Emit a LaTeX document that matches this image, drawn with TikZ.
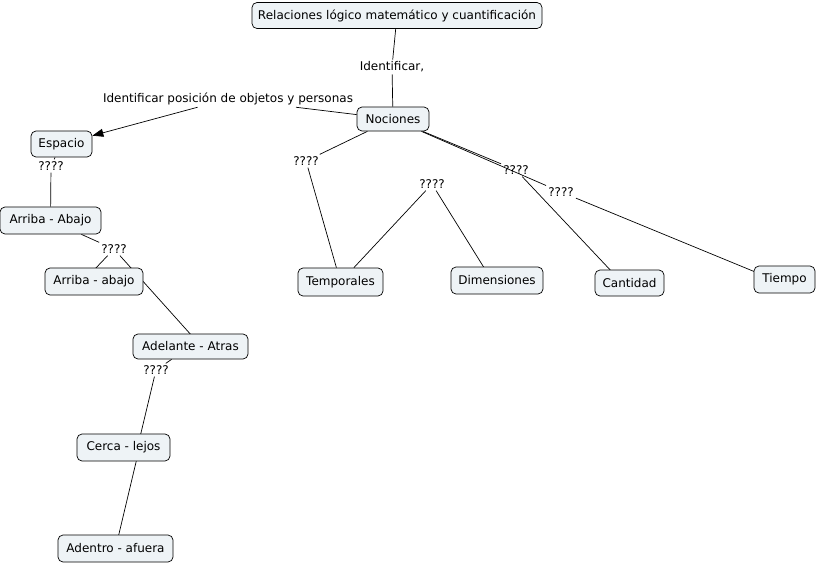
\documentclass[tikz,border=0pt]{standalone}
\usepackage{fontspec}
\setmainfont{DejaVu Sans}
\usetikzlibrary{backgrounds,arrows.meta}
\definecolor{boxfill}{HTML}{EEF3F6}
\begin{document}
\begin{tikzpicture}[x=1pt,y=-1pt,
  concept/.style={draw=black, fill=boxfill, rounded corners=5pt, minimum height=26pt,
    inner xsep=5pt, line width=0.7pt, font=\fontsize{12}{14}\selectfont},
  lbl/.style={inner sep=2pt, font=\fontsize{12}{14}\selectfont},
  link/.style={draw=black, line width=0.7pt},
  arrowlink/.style={link, -{Triangle[length=11pt,width=8pt]}}]
\useasboundingbox (0,0) rectangle (817,563);
% concepts
\node[concept, minimum width=290pt] (rel) at (397,15.5) {Relaciones lógico matemático y cuantificación};
\node[concept, minimum width=72pt, minimum height=24pt] (noc) at (393,119) {Nociones};
\node[concept, minimum width=61pt] (esp) at (61.5,144) {Espacio};
\node[concept, minimum width=101pt, minimum height=27pt] (aA) at (50.5,220.5) {Arriba - Abajo};
\node[concept, minimum width=98pt, minimum height=27pt] (aa) at (94,281.5) {Arriba - abajo};
\node[concept, minimum width=115pt, minimum height=25pt] (adel) at (190.5,346.5) {Adelante - Atras};
\node[concept, minimum width=93pt, minimum height=27pt] (cer) at (123.5,447.5) {Cerca - lejos};
\node[concept, minimum width=115pt, minimum height=27pt] (aden) at (115.5,548.5) {Adentro - afuera};
\node[concept, minimum width=85pt, minimum height=28pt] (tem) at (340.5,282) {Temporales};
\node[concept, minimum width=92pt, minimum height=27pt] (dim) at (497,280.5) {Dimensiones};
\node[concept, minimum width=69pt] (can) at (629.5,283) {Cantidad};
\node[concept, minimum width=61pt, minimum height=27pt] (tie) at (784.5,279.5) {Tiempo};
% linking phrases
\node[lbl] (lid) at (392,67) {Identificar,};
\node[lbl] (lpos) at (228,99) {Identificar posición de objetos y personas};
\node[lbl] (q1) at (51,166) {????};
\node[lbl] (q2) at (114,249) {????};
\node[lbl] (q3) at (156,370) {????};
\node[lbl] (q4) at (306,161) {????};
\node[lbl] (q5) at (432,184) {????};
\node[lbl] (q6) at (516,170) {????};
\node[lbl] (q7) at (561,192) {????};
% connectors (drawn behind the filled boxes)
\begin{scope}[on background layer]
\draw[link] (rel) -- (lid);
\draw[link] (lid) -- (noc);
\draw[link] (noc) -- (lpos);
\draw[arrowlink] (lpos) -- (esp);
\draw[link] (esp) -- (q1);
\draw[link] (q1) -- (aA);
\draw[link] (aA) -- (q2);
\draw[link] (q2) -- ([xshift=-11pt]aa.center);
\draw[link] (q2) -- ([xshift=11pt]adel.center);
\draw[link] (adel) -- (q3);
\draw[link] (q3) -- ([xshift=14pt]cer.center);
\draw[link] ([xshift=16pt]cer.center) -- (aden.center);
\draw[link] (noc) -- (q4);
\draw[link] (q4) -- (tem);
\draw[link] (q5) -- (tem);
\draw[link] (q5) -- ([xshift=-5pt]dim.center);
\draw[link] (noc) -- (q6);
\draw[link] (q6) -- ([xshift=-7pt]can.center);
\draw[link] (noc) -- (q7);
\draw[link] (q7) -- ([xshift=-11pt]tie.center);
\end{scope}
\end{tikzpicture}
\end{document}
